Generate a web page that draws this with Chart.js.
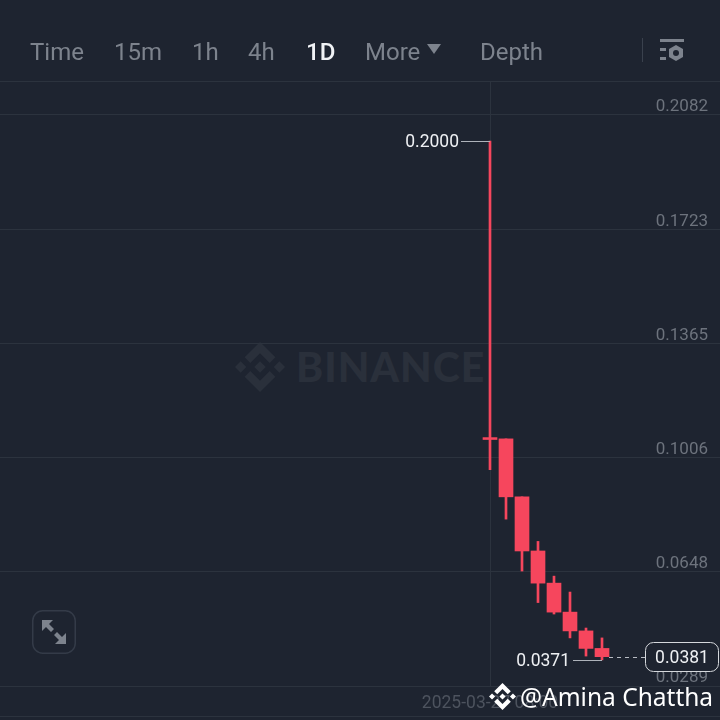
<!DOCTYPE html>
<html>
<head>
<meta charset="utf-8">
<script src="https://cdn.jsdelivr.net/npm/chart.js@4"></script>
<style>
html,body{margin:0;padding:0;background:#1e2430;width:720px;height:720px;overflow:hidden}
#wrap{position:relative;width:720px;height:720px;font-family:Roboto,sans-serif}
#wrap>*{position:absolute}
canvas{left:0;top:0;z-index:2}
.tab{top:37px;font-size:24px;line-height:30px;color:#7d838d;z-index:3;white-space:nowrap;transform-origin:left center}
.line{left:0;width:720px;height:1px;background:#2c333e;z-index:1}
#mark{left:296px;top:344px;font-family:Lato,sans-serif;font-weight:900;font-size:41px;line-height:46px;color:#2a303b;letter-spacing:1px;z-index:1}
#user{left:520px;top:680px;font-family:"Noto Sans",sans-serif;font-size:24.5px;line-height:34px;color:#fff;z-index:4;white-space:nowrap}
</style>
</head>
<body>
<div id="wrap">
  <canvas id="c" width="720" height="720"></canvas>
  <div class="line" style="top:81px"></div>
  <div class="line" style="top:716px"></div>
  <div class="tab" style="left:30px">Time</div>
  <div class="tab" style="left:114px">15m</div>
  <div class="tab" style="left:192px">1h</div>
  <div class="tab" style="left:248px">4h</div>
  <div class="tab" style="left:306px;color:#f0f2f5;font-weight:500">1D</div>
  <div class="tab" style="left:365px">More</div>
  <svg style="left:427px;top:44px;z-index:3" width="14" height="11"><polygon points="0,0 14,0 7,10" fill="#7d838d"/></svg>
  <div class="tab" style="left:480px">Depth</div>
  <div style="left:642px;top:38px;width:1px;height:24px;background:#3a414d"></div>
  <svg style="left:659px;top:38px;z-index:3" width="28" height="26" viewBox="0 0 28 26">
    <rect x="1" y="1" width="24" height="3" fill="#7d838d"/>
    <rect x="1" y="10" width="6" height="3" fill="#7d838d"/>
    <rect x="1" y="19" width="6" height="3" fill="#7d838d"/>
    <polygon points="17,7 24,11 24,19 17,23 10,19 10,11" fill="#7d838d"/>
    <circle cx="17" cy="15" r="3" fill="#1e2430"/>
  </svg>
  <svg style="left:235px;top:342px;z-index:1" width="50" height="50" viewBox="0 0 126.61 126.61">
    <path fill="#2a303b" d="M38.73 53.2l24.59-24.58 24.6 24.6 14.3-14.31L63.32 0 24.42 38.9zM0 63.31l14.3-14.31 14.31 14.31-14.31 14.3zM38.73 73.41l24.59 24.59 24.6-24.6 14.31 14.29-38.9 38.91-38.91-38.88-.02-.02zM98 63.31l14.3-14.31 14.31 14.3-14.31 14.32zM77.83 63.3L63.32 48.78 52.59 59.51l-1.24 1.23-2.54 2.54 14.51 14.5 14.51-14.47z"/>
  </svg>
  <div id="mark">BINANCE</div>
  <svg style="left:32px;top:610px;z-index:3" width="44" height="44" viewBox="0 0 44 44">
    <rect x="0.75" y="0.75" width="42.5" height="42.5" rx="10" fill="#1e2430" stroke="#343b48" stroke-width="1.5"/>
    <polygon points="10,10 21,10 17,14 22,19 19,22 14,17 10,21" fill="#7d838d"/>
    <polygon points="34,34 23,34 27,30 22,25 25,22 30,27 34,23" fill="#7d838d"/>
  </svg>
  <svg style="left:489px;top:683px;z-index:4" width="27" height="27" viewBox="0 0 126.61 126.61">
    <path fill="#fff" d="M38.73 53.2l24.59-24.58 24.6 24.6 14.3-14.31L63.32 0 24.42 38.9zM0 63.31l14.3-14.31 14.31 14.31-14.31 14.3zM38.73 73.41l24.59 24.59 24.6-24.6 14.31 14.29-38.9 38.91-38.91-38.88-.02-.02zM98 63.31l14.3-14.31 14.31 14.3-14.31 14.32zM77.83 63.3L63.32 48.78 52.59 59.51l-1.24 1.23-2.54 2.54 14.51 14.5 14.51-14.47z"/>
  </svg>
  <div id="user">@Amina Chattha</div>
</div>
<script>
const days   = [30, 31, 32, 33, 34, 35, 36, 37];
const opens  = [0.1069, 0.1065, 0.0883, 0.0713, 0.0612, 0.0521, 0.0462, 0.0407];
const closes = [0.1063, 0.0883, 0.0713, 0.0612, 0.0521, 0.0462, 0.0407, 0.0381];
const highs  = [0.2000, 0.1065, 0.0883, 0.0743, 0.0634, 0.0584, 0.0471, 0.0440];
const lows   = [0.0968, 0.0813, 0.0650, 0.0551, 0.0515, 0.0440, 0.0383, 0.0371];
const priceTicks = [0.2082, 0.1723, 0.1365, 0.1006, 0.0648, 0.0289];
const dateTick = 30;
const dateLabel = '2025-03-27 08:00';
const highLabel = 0.2000;
const lowLabel = 0.0371;
const lastPrice = 0.0381;

const RED = '#f6465d';
const FONT = 'Roboto, sans-serif';

const overlay = {
  id: 'overlay',
  afterDatasetsDraw(chart) {
    const {ctx, scales: {x, y}} = chart;
    ctx.save();
    ctx.font = '17.5px ' + FONT;
    ctx.textBaseline = 'middle';
    // high marker
    const hy = Math.round(y.getPixelForValue(highLabel)) + 0.5;
    const hx = x.getPixelForValue(days[0]);
    ctx.strokeStyle = '#aeb3ba'; ctx.lineWidth = 1;
    ctx.beginPath(); ctx.moveTo(461, hy); ctx.lineTo(hx, hy); ctx.stroke();
    ctx.fillStyle = '#eef0f3'; ctx.textAlign = 'right';
    ctx.fillText(highLabel.toFixed(4), 459, hy + 1);
    // low marker
    const ly = Math.round(y.getPixelForValue(lowLabel)) + 0.5;
    const lx = x.getPixelForValue(days[7]);
    ctx.beginPath(); ctx.moveTo(573, ly); ctx.lineTo(lx, ly); ctx.stroke();
    ctx.fillText(lowLabel.toFixed(4), 570, ly + 1);
    // last price
    const py = Math.round(y.getPixelForValue(lastPrice)) + 0.5;
    ctx.setLineDash([4, 4]);
    ctx.strokeStyle = '#b9bdc4';
    ctx.beginPath(); ctx.moveTo(lx + 7, py); ctx.lineTo(646, py); ctx.stroke();
    ctx.setLineDash([]);
    ctx.beginPath(); ctx.roundRect(645.5, 642.5, 73, 29, 8);
    ctx.fillStyle = '#1e2430'; ctx.fill();
    ctx.strokeStyle = '#d5d8dc'; ctx.stroke();
    ctx.fillStyle = '#eef0f3'; ctx.textAlign = 'center';
    ctx.fillText(lastPrice.toFixed(4), 682, 659);
    ctx.restore();
  }
};

new Chart(document.getElementById('c'), {
  type: 'bar',
  data: {
    datasets: [
      {
        label: 'Wick',
        data: days.map((d, i) => ({x: d, y: [lows[i], highs[i]]})),
        backgroundColor: RED,
        barThickness: 2,
        grouped: false,
        order: 2
      },
      {
        label: 'Body',
        data: days.map((d, i) => ({x: d, y: [opens[i], closes[i]]})),
        backgroundColor: RED,
        barThickness: 14,
        grouped: false,
        order: 1
      }
    ]
  },
  options: {
    responsive: false,
    animation: false,
    events: [],
    layout: {padding: {top: 82, left: 0, right: 0, bottom: 0}},
    plugins: {legend: {display: false}, tooltip: {enabled: false}},
    scales: {
      x: {
        type: 'linear',
        offset: false,
        min: -0.625,
        max: 44.375,
        afterFit(s) { s.height = 34; },
        afterBuildTicks(s) { s.ticks = [{value: dateTick}]; },
        border: {display: false},
        grid: {color: '#2c333e', drawTicks: false, offset: false},
        ticks: {
          autoSkip: false, maxRotation: 0, padding: 7,
          color: '#4d535e', font: {family: FONT, size: 17.5},
          callback: () => dateLabel
        }
      },
      y: {
        position: 'right',
        min: 0.0289,
        max: 0.21856,
        afterFit(s) { s.width = 0; },
        afterBuildTicks(s) { s.ticks = priceTicks.map(v => ({value: v})); },
        border: {display: false},
        grid: {color: '#2c333e', drawTicks: false},
        ticks: {
          mirror: true, padding: -12, labelOffset: -8,
          color: '#6d737d', font: {family: FONT, size: 17},
          callback: v => v.toFixed(4)
        }
      }
    }
  },
  plugins: [overlay]
});
</script>
</body>
</html>
